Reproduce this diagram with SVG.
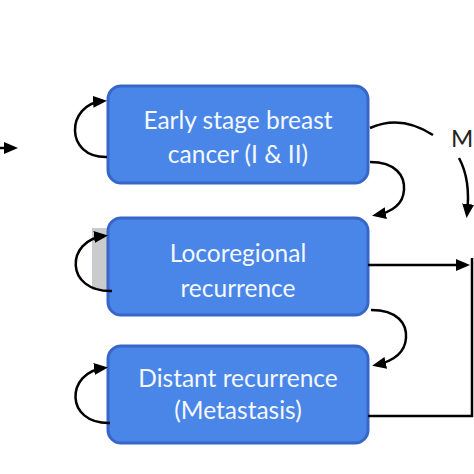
<svg xmlns="http://www.w3.org/2000/svg" width="474" height="474" viewBox="0 0 474 474">
<style>
.box{fill:#4a86e8;stroke:#3566c8;stroke-width:3}
.lbl{font-family:Lato,"Open Sans",sans-serif;font-size:24.5px;fill:#f4f8ff;text-anchor:middle}
.c{fill:none;stroke:#000;stroke-width:2.5}
</style>
<defs>
<marker id="ah" viewBox="0 0 14 12" refX="10" refY="6" markerWidth="14" markerHeight="12" markerUnits="userSpaceOnUse" orient="auto">
<path d="M0,0 L14,6 L0,12 z" fill="#000"/>
</marker>
</defs>
<rect x="92" y="228" width="18" height="62" fill="#c9cbcc"/>
<g id="n1">
<rect class="box" x="108" y="86" width="260" height="97" rx="13"/>
<text class="lbl" x="238" y="129">Early stage breast</text>
<text class="lbl" x="238" y="163">cancer (I &amp; II)</text>
</g>
<g id="n2">
<rect class="box" x="108" y="218" width="260" height="97" rx="13"/>
<text class="lbl" x="238" y="262">Locoregional</text>
<text class="lbl" x="238" y="297">recurrence</text>
</g>
<g id="n3">
<rect class="box" x="108" y="346" width="260" height="97" rx="13"/>
<text class="lbl" x="238" y="387">Distant recurrence</text>
<text class="lbl" x="238" y="419">(Metastasis)</text>
</g>
<text x="451" y="147" style="font-family:Lato,'Open Sans',sans-serif;font-size:24px;fill:#222">M</text>
<g id="connectors">
<path class="c" d="M0,148 L14,148" marker-end="url(#ah)"/>
<path class="c" d="M107,157 C64,158 66,104 103,101" marker-end="url(#ah)"/>
<path class="c" d="M112,291 C64,292 66,240 104,236" marker-end="url(#ah)"/>
<path class="c" d="M110,423 C64,424 66,372 104,368" marker-end="url(#ah)"/>
<path class="c" d="M370,162 C396,162 405,176 404,190 C403,204 392,212 376,215" marker-end="url(#ah)"/>
<path class="c" d="M371,310 C398,310 407,324 406,338 C405,352 394,361 376,365" marker-end="url(#ah)"/>
<path class="c" d="M370,128 Q401,114 433,135"/>
<path class="c" d="M459,158 Q471,180 467,214" marker-end="url(#ah)"/>
<path class="c" d="M368,265 L466,265" marker-end="url(#ah)"/>
<path class="c" d="M472,258 L472,416 L368,416" stroke-width="3"/>
</g>
</svg>
